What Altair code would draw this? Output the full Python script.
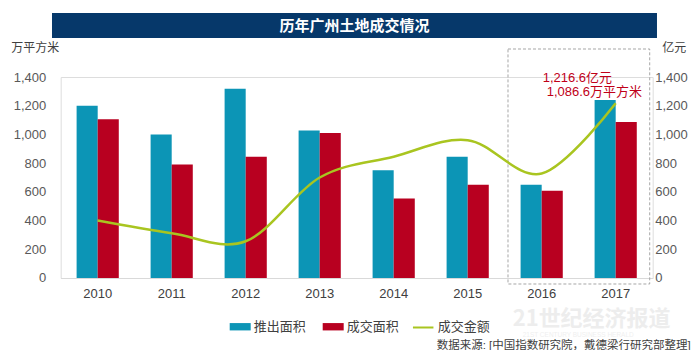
import altair as alt
import pandas as pd

years = ["2010", "2011", "2012", "2013", "2014", "2015", "2016", "2017"]
supply = [1200, 1000, 1318, 1028, 750, 845, 650, 1240]      # 推出面积 万平方米
deal = [1105, 790, 845, 1010, 553, 650, 607, 1086.6]       # 成交面积 万平方米
amount = [400, 312, 256, 700, 845, 960, 728, 1216.6]       # 成交金额 亿元
series = ["推出面积", "成交面积"]
line_name = "成交金额"
title_text = "历年广州土地成交情况"
left_unit = "万平方米"
right_unit = "亿元"
source_text = "数据来源: [中国指数研究院，戴德梁行研究部整理]"
watermark = "21世纪经济报道"
watermark_en = "21ST CENTURY BUSINESS HERALD"

FONT = "Liberation Sans, Arial, Noto Sans CJK SC, sans-serif"
BLUE = "#0c95b6"
RED = "#b80020"
GREEN = "#a9c520"

bars = pd.DataFrame(
    [{"year": y, "series": series[0], "value": v} for y, v in zip(years, supply)]
    + [{"year": y, "series": series[1], "value": v} for y, v in zip(years, deal)]
)
line_df = pd.DataFrame({"year": years, "amount": amount, "series": line_name})

W, H = 592, 201
ticks = list(range(0, 1401, 200))

x_enc = alt.X(
    "year:N",
    sort=years,
    scale=alt.Scale(paddingInner=0.43, paddingOuter=0.215),
    axis=alt.Axis(
        title=None, labelAngle=0, ticks=False, labelFontSize=13, labelColor="#404040",
        labelPadding=10, domainColor="#d9d9d9", grid=False, labelFont=FONT,
    ),
)

bar_layer = alt.Chart(bars).mark_bar().encode(
    x=x_enc,
    xOffset=alt.XOffset("series:N", sort=series, scale=alt.Scale(paddingInner=0, paddingOuter=0)),
    y=alt.Y(
        "value:Q",
        scale=alt.Scale(domain=[0, 1400], nice=False),
        axis=alt.Axis(
            values=ticks, format=",d", ticks=False, domain=False, grid=False,
            labelFontSize=13, labelColor="#595959", labelPadding=15, labelFont=FONT,
            title=left_unit, titleAngle=0, titleX=-50, titleY=-30, titleAlign="left",
            titleBaseline="middle", titleFontSize=12, titleFontWeight="normal",
            titleColor="#404040", titleFont=FONT,
        ),
    ),
    color=alt.Color(
        "series:N",
        scale=alt.Scale(domain=series, range=[BLUE, RED]),
        legend=alt.Legend(
            orient="none", legendX=169, legendY=239, direction="horizontal", title=None,
            symbolType="M-1,-0.35L1,-0.35L1,0.35L-1,0.35Z", symbolSize=441,
            symbolStrokeWidth=0, labelFontSize=13, labelColor="#404040", labelFont=FONT,
            columnPadding=16, labelOffset=3,
        ),
    ),
)

line_layer = alt.Chart(line_df).mark_line(interpolate="cardinal", strokeWidth=2.5).encode(
    x=alt.X("year:N", sort=years),
    y=alt.Y(
        "amount:Q",
        scale=alt.Scale(domain=[0, 1400], nice=False),
        axis=alt.Axis(
            orient="right", values=ticks, format=",d", ticks=False, domain=False, grid=False,
            labelFontSize=13, labelColor="#595959", labelPadding=2, labelFont=FONT,
            title=right_unit, titleAngle=0, titleX=9, titleY=-30, titleAlign="left",
            titleBaseline="middle", titleFontSize=12, titleFontWeight="normal",
            titleColor="#404040", titleFont=FONT,
        ),
    ),
    stroke=alt.Stroke(
        "series:N",
        scale=alt.Scale(domain=[line_name], range=[GREEN]),
        legend=alt.Legend(
            orient="none", legendX=351, legendY=239, title=None, symbolType="stroke",
            symbolSize=420, symbolStrokeWidth=2, labelFontSize=13, labelColor="#404040",
            labelFont=FONT, labelOffset=3,
        ),
    ),
)

one = alt.Data(values=[{"k": 1}])

title_bar = alt.Chart(one).mark_rect(color="#06386a").encode(
    x=alt.value(-8.7), x2=alt.value(596.3), y=alt.value(-64), y2=alt.value(-39)
)
title_label = alt.Chart(one).mark_text(
    text=title_text, color="white", fontSize=15, fontWeight="bold",
    font="Noto Sans CJK SC", align="center", baseline="middle",
).encode(x=alt.value(293.8), y=alt.value(-51.5))

box = alt.Chart(one).mark_rect(
    fillOpacity=0, stroke="#a6a6a6", strokeDash=[3, 2], strokeWidth=1
).encode(x=alt.value(447.3), x2=alt.value(589), y=alt.value(-28), y2=alt.value(207))

ann1 = alt.Chart(one).mark_text(
    text=f"{amount[-1]:,.1f}{right_unit}", color="#c00018", fontSize=13, font=FONT,
    align="left", baseline="middle",
).encode(x=alt.value(482), y=alt.value(1))
ann2 = alt.Chart(one).mark_text(
    text=f"{deal[-1]:,.1f}{left_unit}", color="#c00018", fontSize=13, font=FONT,
    align="left", baseline="middle",
).encode(x=alt.value(486), y=alt.value(15))

wm = alt.Chart(one).mark_text(
    text=watermark, color="#ededed", fontSize=22, fontWeight="bold",
    font="Noto Sans CJK SC", align="left", baseline="middle",
).encode(x=alt.value(452), y=alt.value(242))
wm_en = alt.Chart(one).mark_text(
    text=watermark_en, color="#efefef", fontSize=6.5, font=FONT,
    align="left", baseline="middle",
).encode(x=alt.value(462), y=alt.value(258))

src = alt.Chart(one).mark_text(
    text=source_text, color="#404040", fontSize=11.5, font=FONT,
    align="left", baseline="middle",
).encode(x=alt.value(376), y=alt.value(269.5))

main = alt.layer(bar_layer, line_layer).resolve_scale(y="independent", color="independent")

chart = alt.layer(
    title_bar, title_label, box, wm, wm_en, main, ann1, ann2, src
).properties(
    width=W, height=H,
    padding={"left": 52.7, "top": 69, "right": 39, "bottom": 72},
    autosize=alt.AutoSizeParams(type="none"),
).configure_view(stroke=None).configure(font=FONT)

chart.save("out.html", embed_options={"renderer": "svg", "actions": False})
